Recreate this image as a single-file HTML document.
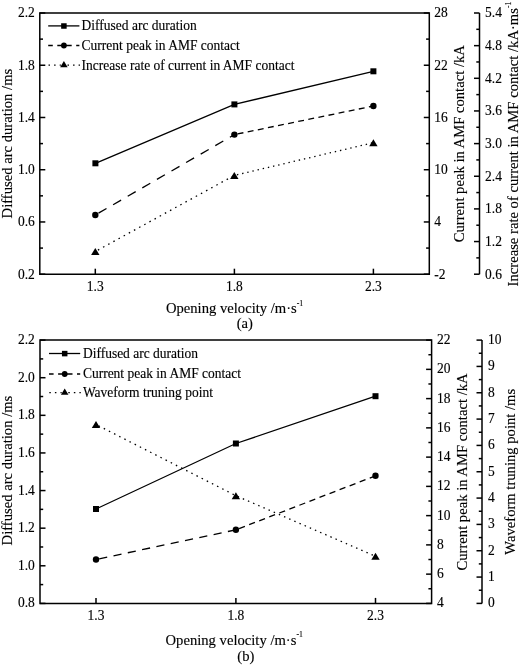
<!DOCTYPE html>
<html><head><meta charset="utf-8"><title>Figure</title>
<style>html,body{margin:0;padding:0;background:#fff}svg{display:block}text{font-family:"Liberation Serif",serif;fill:#000;stroke:#000;stroke-width:0.14px}</style>
</head><body>
<svg width="520" height="665" viewBox="0 0 520 665">
<rect width="520" height="665" fill="#fff"/>
<path d="M39.80,13.00 H429.30 V274.20 H39.80 Z" fill="none" stroke="#000" stroke-width="1.5"/>
<line x1="479.50" y1="13.00" x2="479.50" y2="274.20" stroke="#000" stroke-width="1.5" />
<line x1="39.80" y1="13.00" x2="45.30" y2="13.00" stroke="#000" stroke-width="1.5" />
<text transform="translate(34.80 17.40) scale(0.97 1)" font-size="13.92" text-anchor="end" >2.2</text>
<line x1="39.80" y1="39.12" x2="43.00" y2="39.12" stroke="#000" stroke-width="1.5" />
<line x1="39.80" y1="65.24" x2="45.30" y2="65.24" stroke="#000" stroke-width="1.5" />
<text transform="translate(34.80 69.64) scale(0.97 1)" font-size="13.92" text-anchor="end" >1.8</text>
<line x1="39.80" y1="91.36" x2="43.00" y2="91.36" stroke="#000" stroke-width="1.5" />
<line x1="39.80" y1="117.48" x2="45.30" y2="117.48" stroke="#000" stroke-width="1.5" />
<text transform="translate(34.80 121.88) scale(0.97 1)" font-size="13.92" text-anchor="end" >1.4</text>
<line x1="39.80" y1="143.60" x2="43.00" y2="143.60" stroke="#000" stroke-width="1.5" />
<line x1="39.80" y1="169.72" x2="45.30" y2="169.72" stroke="#000" stroke-width="1.5" />
<text transform="translate(34.80 174.12) scale(0.97 1)" font-size="13.92" text-anchor="end" >1.0</text>
<line x1="39.80" y1="195.84" x2="43.00" y2="195.84" stroke="#000" stroke-width="1.5" />
<line x1="39.80" y1="221.96" x2="45.30" y2="221.96" stroke="#000" stroke-width="1.5" />
<text transform="translate(34.80 226.36) scale(0.97 1)" font-size="13.92" text-anchor="end" >0.6</text>
<line x1="39.80" y1="248.08" x2="43.00" y2="248.08" stroke="#000" stroke-width="1.5" />
<line x1="39.80" y1="274.20" x2="45.30" y2="274.20" stroke="#000" stroke-width="1.5" />
<text transform="translate(34.80 278.60) scale(0.97 1)" font-size="13.92" text-anchor="end" >0.2</text>
<line x1="429.30" y1="13.00" x2="423.80" y2="13.00" stroke="#000" stroke-width="1.5" />
<text transform="translate(434.20 17.40) scale(0.97 1)" font-size="13.92" text-anchor="start" >28</text>
<line x1="429.30" y1="39.12" x2="426.10" y2="39.12" stroke="#000" stroke-width="1.5" />
<line x1="429.30" y1="65.24" x2="423.80" y2="65.24" stroke="#000" stroke-width="1.5" />
<text transform="translate(434.20 69.64) scale(0.97 1)" font-size="13.92" text-anchor="start" >22</text>
<line x1="429.30" y1="91.36" x2="426.10" y2="91.36" stroke="#000" stroke-width="1.5" />
<line x1="429.30" y1="117.48" x2="423.80" y2="117.48" stroke="#000" stroke-width="1.5" />
<text transform="translate(434.20 121.88) scale(0.97 1)" font-size="13.92" text-anchor="start" >16</text>
<line x1="429.30" y1="143.60" x2="426.10" y2="143.60" stroke="#000" stroke-width="1.5" />
<line x1="429.30" y1="169.72" x2="423.80" y2="169.72" stroke="#000" stroke-width="1.5" />
<text transform="translate(434.20 174.12) scale(0.97 1)" font-size="13.92" text-anchor="start" >10</text>
<line x1="429.30" y1="195.84" x2="426.10" y2="195.84" stroke="#000" stroke-width="1.5" />
<line x1="429.30" y1="221.96" x2="423.80" y2="221.96" stroke="#000" stroke-width="1.5" />
<text transform="translate(434.20 226.36) scale(0.97 1)" font-size="13.92" text-anchor="start" >4</text>
<line x1="429.30" y1="248.08" x2="426.10" y2="248.08" stroke="#000" stroke-width="1.5" />
<line x1="429.30" y1="274.20" x2="423.80" y2="274.20" stroke="#000" stroke-width="1.5" />
<text transform="translate(434.20 278.60) scale(0.97 1)" font-size="13.92" text-anchor="start" >-2</text>
<line x1="479.50" y1="13.00" x2="474.00" y2="13.00" stroke="#000" stroke-width="1.5" />
<text transform="translate(485.10 17.40) scale(0.97 1)" font-size="13.92" text-anchor="start" >5.4</text>
<line x1="479.50" y1="29.32" x2="476.30" y2="29.32" stroke="#000" stroke-width="1.5" />
<line x1="479.50" y1="45.65" x2="474.00" y2="45.65" stroke="#000" stroke-width="1.5" />
<text transform="translate(485.10 50.05) scale(0.97 1)" font-size="13.92" text-anchor="start" >4.8</text>
<line x1="479.50" y1="61.97" x2="476.30" y2="61.97" stroke="#000" stroke-width="1.5" />
<line x1="479.50" y1="78.30" x2="474.00" y2="78.30" stroke="#000" stroke-width="1.5" />
<text transform="translate(485.10 82.70) scale(0.97 1)" font-size="13.92" text-anchor="start" >4.2</text>
<line x1="479.50" y1="94.62" x2="476.30" y2="94.62" stroke="#000" stroke-width="1.5" />
<line x1="479.50" y1="110.95" x2="474.00" y2="110.95" stroke="#000" stroke-width="1.5" />
<text transform="translate(485.10 115.35) scale(0.97 1)" font-size="13.92" text-anchor="start" >3.6</text>
<line x1="479.50" y1="127.27" x2="476.30" y2="127.27" stroke="#000" stroke-width="1.5" />
<line x1="479.50" y1="143.60" x2="474.00" y2="143.60" stroke="#000" stroke-width="1.5" />
<text transform="translate(485.10 148.00) scale(0.97 1)" font-size="13.92" text-anchor="start" >3.0</text>
<line x1="479.50" y1="159.92" x2="476.30" y2="159.92" stroke="#000" stroke-width="1.5" />
<line x1="479.50" y1="176.25" x2="474.00" y2="176.25" stroke="#000" stroke-width="1.5" />
<text transform="translate(485.10 180.65) scale(0.97 1)" font-size="13.92" text-anchor="start" >2.4</text>
<line x1="479.50" y1="192.57" x2="476.30" y2="192.57" stroke="#000" stroke-width="1.5" />
<line x1="479.50" y1="208.90" x2="474.00" y2="208.90" stroke="#000" stroke-width="1.5" />
<text transform="translate(485.10 213.30) scale(0.97 1)" font-size="13.92" text-anchor="start" >1.8</text>
<line x1="479.50" y1="225.22" x2="476.30" y2="225.22" stroke="#000" stroke-width="1.5" />
<line x1="479.50" y1="241.55" x2="474.00" y2="241.55" stroke="#000" stroke-width="1.5" />
<text transform="translate(485.10 245.95) scale(0.97 1)" font-size="13.92" text-anchor="start" >1.2</text>
<line x1="479.50" y1="257.88" x2="476.30" y2="257.88" stroke="#000" stroke-width="1.5" />
<line x1="479.50" y1="274.20" x2="474.00" y2="274.20" stroke="#000" stroke-width="1.5" />
<text transform="translate(485.10 278.60) scale(0.97 1)" font-size="13.92" text-anchor="start" >0.6</text>
<line x1="95.30" y1="274.20" x2="95.30" y2="268.70" stroke="#000" stroke-width="1.5" />
<text transform="translate(95.30 290.90) scale(0.97 1)" font-size="13.92" text-anchor="middle" >1.3</text>
<line x1="234.40" y1="274.20" x2="234.40" y2="268.70" stroke="#000" stroke-width="1.5" />
<text transform="translate(234.40 290.90) scale(0.97 1)" font-size="13.92" text-anchor="middle" >1.8</text>
<line x1="373.40" y1="274.20" x2="373.40" y2="268.70" stroke="#000" stroke-width="1.5" />
<text transform="translate(373.40 290.90) scale(0.97 1)" font-size="13.92" text-anchor="middle" >2.3</text>
<polyline points="95.40,163.30 234.40,104.40 373.40,71.30" fill="none" stroke="#000" stroke-width="1.3" />
<path d="M98.50,213.15L106.50,208.53M113.10,204.71L121.10,200.09M127.70,196.27L135.70,191.65M142.30,187.83L150.30,183.21M156.90,179.40L164.90,174.77M171.50,170.96L179.50,166.33M186.10,162.52L194.10,157.89M200.70,154.08L208.70,149.45M215.30,145.64L223.30,141.02M229.90,137.20L234.40,134.60M237.60,133.94L243.40,132.75M247.70,131.86L253.50,130.67M257.80,129.79L263.60,128.59M267.90,127.71L273.70,126.51M278.00,125.63L283.80,124.44M288.10,123.55L293.90,122.36M298.20,121.47L304.00,120.28M308.30,119.39L314.10,118.20M318.40,117.32L324.20,116.12M328.50,115.24L334.30,114.05M338.60,113.16L344.40,111.97M348.70,111.08L354.50,109.89M358.80,109.00L364.60,107.81M368.90,106.93L373.40,106.00" fill="none" stroke="#000" stroke-width="1.3"/>
<path d="M97.90,250.08L99.25,249.34M103.05,247.26L104.40,246.52M108.20,244.44L109.55,243.70M113.35,241.62L114.70,240.88M118.50,238.80L119.85,238.06M123.65,235.98L125.00,235.24M128.80,233.16L130.15,232.42M133.95,230.34L135.30,229.60M139.10,227.52L140.45,226.78M144.25,224.70L145.60,223.96M149.40,221.88L150.75,221.14M154.55,219.06L155.90,218.32M159.70,216.24L161.05,215.50M164.85,213.42L166.20,212.68M170.00,210.60L171.35,209.86M175.15,207.78L176.50,207.04M180.30,204.96L181.65,204.22M185.45,202.14L186.80,201.41M190.60,199.32L191.95,198.59M195.75,196.51L197.10,195.77M200.90,193.69L202.25,192.95M206.05,190.87L207.40,190.13M211.20,188.05L212.55,187.31M216.35,185.23L217.70,184.49M221.50,182.41L222.85,181.67M226.65,179.59L228.00,178.85M231.80,176.77L233.15,176.03M236.95,174.78L238.30,174.46M242.10,173.57L243.45,173.25M247.25,172.36L248.60,172.04M252.40,171.15L253.75,170.83M257.55,169.93L258.90,169.62M262.70,168.72L264.05,168.41M267.85,167.51L269.20,167.20M273.00,166.30L274.35,165.98M278.15,165.09L279.50,164.77M283.30,163.88L284.65,163.56M288.45,162.67L289.80,162.35M293.60,161.46L294.95,161.14M298.75,160.25L300.10,159.93M303.90,159.04L305.25,158.72M309.05,157.83L310.40,157.51M314.20,156.62L315.55,156.30M319.35,155.41L320.70,155.09M324.50,154.20L325.85,153.88M329.65,152.98L331.00,152.67M334.80,151.77L336.15,151.46M339.95,150.56L341.30,150.25M345.10,149.35L346.45,149.04M350.25,148.14L351.60,147.82M355.40,146.93L356.75,146.61M360.55,145.72L361.90,145.40M365.70,144.51L367.05,144.19M370.85,143.30L372.20,142.98" fill="none" stroke="#000" stroke-width="1.3"/>
<rect x="92.40" y="160.30" width="6.0" height="6.0" fill="#000"/>
<rect x="231.40" y="101.40" width="6.0" height="6.0" fill="#000"/>
<rect x="370.40" y="68.30" width="6.0" height="6.0" fill="#000"/>
<circle cx="95.30" cy="215.00" r="3.2" fill="#000"/>
<circle cx="234.40" cy="134.60" r="3.2" fill="#000"/>
<circle cx="373.40" cy="106.00" r="3.2" fill="#000"/>
<polygon points="95.30,248.00 99.50,255.00 91.10,255.00" fill="#000"/>
<polygon points="234.30,171.90 238.50,178.90 230.10,178.90" fill="#000"/>
<polygon points="373.40,139.20 377.60,146.20 369.20,146.20" fill="#000"/>
<line x1="48.20" y1="25.90" x2="79.40" y2="25.90" stroke="#000" stroke-width="1.3" />
<rect x="61.15" y="23.25" width="5.5" height="5.5" fill="#000"/>
<text transform="translate(81.60 30.30) scale(0.97 1)" font-size="13.92" text-anchor="start" >Diffused arc duration</text>
<line x1="48.20" y1="45.50" x2="79.40" y2="45.50" stroke="#000" stroke-width="1.3" stroke-dasharray="4.6 4.5 14.4 4.5 3.4 0"/>
<circle cx="63.90" cy="45.50" r="2.9" fill="#000"/>
<text transform="translate(81.60 49.90) scale(0.97 1)" font-size="13.92" text-anchor="start" >Current peak in AMF contact</text>
<line x1="48.50" y1="65.20" x2="60.90" y2="65.20" stroke="#000" stroke-width="1.3" stroke-dasharray="1.5 4.1"/>
<line x1="67.50" y1="65.20" x2="80.00" y2="65.20" stroke="#000" stroke-width="1.3" stroke-dasharray="1.5 4.05"/>
<polygon points="63.90,61.05 67.65,67.35 60.15,67.35" fill="#000"/>
<text transform="translate(81.60 69.60) scale(0.97 1)" font-size="13.92" text-anchor="start" >Increase rate of current in AMF contact</text>
<text transform="translate(12.00 143.60) rotate(-90) scale(0.97 1)" font-size="15.10" text-anchor="middle" >Diffused arc duration /ms</text>
<text transform="translate(464.10 143.70) rotate(-90) scale(0.97 1)" font-size="15.10" text-anchor="middle" >Current peak in AMF contact /kA</text>
<text transform="translate(518.40 144.00) rotate(-90) scale(0.97 1)" font-size="15.10" text-anchor="middle" >Increase rate of current in AMF contact /kA·ms<tspan dy="-7.2" font-size="8">-1</tspan></text>
<text transform="translate(234.55 312.70) scale(0.97 1)" font-size="15.10" text-anchor="middle" >Opening velocity /m·s<tspan dy="-7.2" font-size="8">-1</tspan></text>
<text transform="translate(244.85 327.50) scale(0.97 1)" font-size="15.10" text-anchor="middle" >(a)</text>
<path d="M40.00,340.10 H431.60 V603.40 H40.00 Z" fill="none" stroke="#000" stroke-width="1.5"/>
<line x1="482.00" y1="340.10" x2="482.00" y2="603.40" stroke="#000" stroke-width="1.5" />
<line x1="40.00" y1="340.10" x2="45.50" y2="340.10" stroke="#000" stroke-width="1.5" />
<text transform="translate(34.80 344.10) scale(0.97 1)" font-size="13.92" text-anchor="end" >2.2</text>
<line x1="40.00" y1="358.91" x2="43.20" y2="358.91" stroke="#000" stroke-width="1.5" />
<line x1="40.00" y1="377.71" x2="45.50" y2="377.71" stroke="#000" stroke-width="1.5" />
<text transform="translate(34.80 381.71) scale(0.97 1)" font-size="13.92" text-anchor="end" >2.0</text>
<line x1="40.00" y1="396.52" x2="43.20" y2="396.52" stroke="#000" stroke-width="1.5" />
<line x1="40.00" y1="415.33" x2="45.50" y2="415.33" stroke="#000" stroke-width="1.5" />
<text transform="translate(34.80 419.33) scale(0.97 1)" font-size="13.92" text-anchor="end" >1.8</text>
<line x1="40.00" y1="434.14" x2="43.20" y2="434.14" stroke="#000" stroke-width="1.5" />
<line x1="40.00" y1="452.94" x2="45.50" y2="452.94" stroke="#000" stroke-width="1.5" />
<text transform="translate(34.80 456.94) scale(0.97 1)" font-size="13.92" text-anchor="end" >1.6</text>
<line x1="40.00" y1="471.75" x2="43.20" y2="471.75" stroke="#000" stroke-width="1.5" />
<line x1="40.00" y1="490.56" x2="45.50" y2="490.56" stroke="#000" stroke-width="1.5" />
<text transform="translate(34.80 494.56) scale(0.97 1)" font-size="13.92" text-anchor="end" >1.4</text>
<line x1="40.00" y1="509.36" x2="43.20" y2="509.36" stroke="#000" stroke-width="1.5" />
<line x1="40.00" y1="528.17" x2="45.50" y2="528.17" stroke="#000" stroke-width="1.5" />
<text transform="translate(34.80 532.17) scale(0.97 1)" font-size="13.92" text-anchor="end" >1.2</text>
<line x1="40.00" y1="546.98" x2="43.20" y2="546.98" stroke="#000" stroke-width="1.5" />
<line x1="40.00" y1="565.79" x2="45.50" y2="565.79" stroke="#000" stroke-width="1.5" />
<text transform="translate(34.80 569.79) scale(0.97 1)" font-size="13.92" text-anchor="end" >1.0</text>
<line x1="40.00" y1="584.59" x2="43.20" y2="584.59" stroke="#000" stroke-width="1.5" />
<line x1="40.00" y1="603.40" x2="45.50" y2="603.40" stroke="#000" stroke-width="1.5" />
<text transform="translate(34.80 607.40) scale(0.97 1)" font-size="13.92" text-anchor="end" >0.8</text>
<line x1="431.60" y1="340.10" x2="426.10" y2="340.10" stroke="#000" stroke-width="1.5" />
<text transform="translate(436.90 344.10) scale(0.97 1)" font-size="13.92" text-anchor="start" >22</text>
<line x1="431.60" y1="354.73" x2="428.40" y2="354.73" stroke="#000" stroke-width="1.5" />
<line x1="431.60" y1="369.36" x2="426.10" y2="369.36" stroke="#000" stroke-width="1.5" />
<text transform="translate(436.90 373.36) scale(0.97 1)" font-size="13.92" text-anchor="start" >20</text>
<line x1="431.60" y1="383.98" x2="428.40" y2="383.98" stroke="#000" stroke-width="1.5" />
<line x1="431.60" y1="398.61" x2="426.10" y2="398.61" stroke="#000" stroke-width="1.5" />
<text transform="translate(436.90 402.61) scale(0.97 1)" font-size="13.92" text-anchor="start" >18</text>
<line x1="431.60" y1="413.24" x2="428.40" y2="413.24" stroke="#000" stroke-width="1.5" />
<line x1="431.60" y1="427.87" x2="426.10" y2="427.87" stroke="#000" stroke-width="1.5" />
<text transform="translate(436.90 431.87) scale(0.97 1)" font-size="13.92" text-anchor="start" >16</text>
<line x1="431.60" y1="442.49" x2="428.40" y2="442.49" stroke="#000" stroke-width="1.5" />
<line x1="431.60" y1="457.12" x2="426.10" y2="457.12" stroke="#000" stroke-width="1.5" />
<text transform="translate(436.90 461.12) scale(0.97 1)" font-size="13.92" text-anchor="start" >14</text>
<line x1="431.60" y1="471.75" x2="428.40" y2="471.75" stroke="#000" stroke-width="1.5" />
<line x1="431.60" y1="486.38" x2="426.10" y2="486.38" stroke="#000" stroke-width="1.5" />
<text transform="translate(436.90 490.38) scale(0.97 1)" font-size="13.92" text-anchor="start" >12</text>
<line x1="431.60" y1="501.01" x2="428.40" y2="501.01" stroke="#000" stroke-width="1.5" />
<line x1="431.60" y1="515.63" x2="426.10" y2="515.63" stroke="#000" stroke-width="1.5" />
<text transform="translate(436.90 519.63) scale(0.97 1)" font-size="13.92" text-anchor="start" >10</text>
<line x1="431.60" y1="530.26" x2="428.40" y2="530.26" stroke="#000" stroke-width="1.5" />
<line x1="431.60" y1="544.89" x2="426.10" y2="544.89" stroke="#000" stroke-width="1.5" />
<text transform="translate(436.90 548.89) scale(0.97 1)" font-size="13.92" text-anchor="start" >8</text>
<line x1="431.60" y1="559.52" x2="428.40" y2="559.52" stroke="#000" stroke-width="1.5" />
<line x1="431.60" y1="574.14" x2="426.10" y2="574.14" stroke="#000" stroke-width="1.5" />
<text transform="translate(436.90 578.14) scale(0.97 1)" font-size="13.92" text-anchor="start" >6</text>
<line x1="431.60" y1="588.77" x2="428.40" y2="588.77" stroke="#000" stroke-width="1.5" />
<line x1="431.60" y1="603.40" x2="426.10" y2="603.40" stroke="#000" stroke-width="1.5" />
<text transform="translate(436.90 607.40) scale(0.97 1)" font-size="13.92" text-anchor="start" >4</text>
<line x1="482.00" y1="340.10" x2="476.50" y2="340.10" stroke="#000" stroke-width="1.5" />
<text transform="translate(488.00 344.10) scale(0.97 1)" font-size="13.92" text-anchor="start" >10</text>
<line x1="482.00" y1="353.27" x2="478.80" y2="353.27" stroke="#000" stroke-width="1.5" />
<line x1="482.00" y1="366.43" x2="476.50" y2="366.43" stroke="#000" stroke-width="1.5" />
<text transform="translate(488.00 370.43) scale(0.97 1)" font-size="13.92" text-anchor="start" >9</text>
<line x1="482.00" y1="379.60" x2="478.80" y2="379.60" stroke="#000" stroke-width="1.5" />
<line x1="482.00" y1="392.76" x2="476.50" y2="392.76" stroke="#000" stroke-width="1.5" />
<text transform="translate(488.00 396.76) scale(0.97 1)" font-size="13.92" text-anchor="start" >8</text>
<line x1="482.00" y1="405.93" x2="478.80" y2="405.93" stroke="#000" stroke-width="1.5" />
<line x1="482.00" y1="419.09" x2="476.50" y2="419.09" stroke="#000" stroke-width="1.5" />
<text transform="translate(488.00 423.09) scale(0.97 1)" font-size="13.92" text-anchor="start" >7</text>
<line x1="482.00" y1="432.26" x2="478.80" y2="432.26" stroke="#000" stroke-width="1.5" />
<line x1="482.00" y1="445.42" x2="476.50" y2="445.42" stroke="#000" stroke-width="1.5" />
<text transform="translate(488.00 449.42) scale(0.97 1)" font-size="13.92" text-anchor="start" >6</text>
<line x1="482.00" y1="458.59" x2="478.80" y2="458.59" stroke="#000" stroke-width="1.5" />
<line x1="482.00" y1="471.75" x2="476.50" y2="471.75" stroke="#000" stroke-width="1.5" />
<text transform="translate(488.00 475.75) scale(0.97 1)" font-size="13.92" text-anchor="start" >5</text>
<line x1="482.00" y1="484.92" x2="478.80" y2="484.92" stroke="#000" stroke-width="1.5" />
<line x1="482.00" y1="498.08" x2="476.50" y2="498.08" stroke="#000" stroke-width="1.5" />
<text transform="translate(488.00 502.08) scale(0.97 1)" font-size="13.92" text-anchor="start" >4</text>
<line x1="482.00" y1="511.25" x2="478.80" y2="511.25" stroke="#000" stroke-width="1.5" />
<line x1="482.00" y1="524.41" x2="476.50" y2="524.41" stroke="#000" stroke-width="1.5" />
<text transform="translate(488.00 528.41) scale(0.97 1)" font-size="13.92" text-anchor="start" >3</text>
<line x1="482.00" y1="537.57" x2="478.80" y2="537.57" stroke="#000" stroke-width="1.5" />
<line x1="482.00" y1="550.74" x2="476.50" y2="550.74" stroke="#000" stroke-width="1.5" />
<text transform="translate(488.00 554.74) scale(0.97 1)" font-size="13.92" text-anchor="start" >2</text>
<line x1="482.00" y1="563.90" x2="478.80" y2="563.90" stroke="#000" stroke-width="1.5" />
<line x1="482.00" y1="577.07" x2="476.50" y2="577.07" stroke="#000" stroke-width="1.5" />
<text transform="translate(488.00 581.07) scale(0.97 1)" font-size="13.92" text-anchor="start" >1</text>
<line x1="482.00" y1="590.23" x2="478.80" y2="590.23" stroke="#000" stroke-width="1.5" />
<line x1="482.00" y1="603.40" x2="476.50" y2="603.40" stroke="#000" stroke-width="1.5" />
<text transform="translate(488.00 607.40) scale(0.97 1)" font-size="13.92" text-anchor="start" >0</text>
<line x1="96.00" y1="603.40" x2="96.00" y2="597.90" stroke="#000" stroke-width="1.5" />
<text transform="translate(96.00 620.00) scale(0.97 1)" font-size="13.92" text-anchor="middle" >1.3</text>
<line x1="235.90" y1="603.40" x2="235.90" y2="597.90" stroke="#000" stroke-width="1.5" />
<text transform="translate(235.90 620.00) scale(0.97 1)" font-size="13.92" text-anchor="middle" >1.8</text>
<line x1="375.50" y1="603.40" x2="375.50" y2="597.90" stroke="#000" stroke-width="1.5" />
<text transform="translate(375.50 620.00) scale(0.97 1)" font-size="13.92" text-anchor="middle" >2.3</text>
<polyline points="96.00,509.00 235.90,443.50 375.50,396.20" fill="none" stroke="#000" stroke-width="1.3" />
<path d="M99.20,558.82L107.20,557.12M113.50,555.78L121.50,554.09M127.80,552.75L135.80,551.05M142.10,549.71L150.10,548.01M156.40,546.68L164.40,544.98M170.70,543.64L178.70,541.94M185.00,540.61L193.00,538.91M199.30,537.57L207.30,535.87M213.60,534.53L221.60,532.84M227.90,531.50L235.90,529.80M239.10,528.56L244.90,526.32M249.15,524.67L254.95,522.43M259.20,520.79L265.00,518.54M269.25,516.90L275.05,514.66M279.30,513.01L285.10,510.77M289.35,509.12L295.15,506.88M299.40,505.24L305.20,502.99M309.45,501.35L315.25,499.11M319.50,497.46L325.30,495.22M329.55,493.57L335.35,491.33M339.60,489.69L345.40,487.44M349.65,485.80L355.45,483.56M359.70,481.91L365.50,479.67M369.75,478.02L375.50,475.80" fill="none" stroke="#000" stroke-width="1.3"/>
<path d="M98.60,425.82L99.95,426.51M103.75,428.44L105.10,429.13M108.90,431.07L110.25,431.75M114.05,433.69L115.40,434.37M119.20,436.31L120.55,436.99M124.35,438.93L125.70,439.62M129.50,441.55L130.85,442.24M134.65,444.17L136.00,444.86M139.80,446.79L141.15,447.48M144.95,449.41L146.30,450.10M150.10,452.03L151.45,452.72M155.25,454.65L156.60,455.34M160.40,457.28L161.75,457.96M165.55,459.90L166.90,460.58M170.70,462.52L172.05,463.20M175.85,465.14L177.20,465.83M181.00,467.76L182.35,468.45M186.15,470.38L187.50,471.07M191.30,473.00L192.65,473.69M196.45,475.62L197.80,476.31M201.60,478.24L202.95,478.93M206.75,480.86L208.10,481.55M211.90,483.49L213.25,484.17M217.05,486.11L218.40,486.79M222.20,488.73L223.55,489.41M227.35,491.35L228.70,492.04M232.50,493.97L233.85,494.66M237.65,496.46L239.00,497.05M242.80,498.70L244.15,499.28M247.95,500.93L249.30,501.52M253.10,503.17L254.45,503.75M258.25,505.40L259.60,505.99M263.40,507.64L264.75,508.22M268.55,509.87L269.90,510.46M273.70,512.11L275.05,512.69M278.85,514.34L280.20,514.93M284.00,516.58L285.35,517.17M289.15,518.82L290.50,519.40M294.30,521.05L295.65,521.64M299.45,523.29L300.80,523.87M304.60,525.52L305.95,526.11M309.75,527.76L311.10,528.34M314.90,529.99L316.25,530.58M320.05,532.23L321.40,532.82M325.20,534.46L326.55,535.05M330.35,536.70L331.70,537.29M335.50,538.94L336.85,539.52M340.65,541.17L342.00,541.76M345.80,543.41L347.15,543.99M350.95,545.64L352.30,546.23M356.10,547.88L357.45,548.46M361.25,550.11L362.60,550.70M366.40,552.35L367.75,552.94M371.55,554.59L372.90,555.17" fill="none" stroke="#000" stroke-width="1.3"/>
<rect x="93.00" y="506.00" width="6.0" height="6.0" fill="#000"/>
<rect x="232.90" y="440.50" width="6.0" height="6.0" fill="#000"/>
<rect x="372.50" y="393.20" width="6.0" height="6.0" fill="#000"/>
<circle cx="96.00" cy="559.50" r="3.2" fill="#000"/>
<circle cx="235.90" cy="529.80" r="3.2" fill="#000"/>
<circle cx="375.50" cy="475.80" r="3.2" fill="#000"/>
<polygon points="96.00,421.00 100.20,428.00 91.80,428.00" fill="#000"/>
<polygon points="235.90,492.20 240.10,499.20 231.70,499.20" fill="#000"/>
<polygon points="375.50,552.80 379.70,559.80 371.30,559.80" fill="#000"/>
<line x1="49.00" y1="353.50" x2="80.20" y2="353.50" stroke="#000" stroke-width="1.3" />
<rect x="61.95" y="350.85" width="5.5" height="5.5" fill="#000"/>
<text transform="translate(82.90 357.90) scale(0.97 1)" font-size="13.92" text-anchor="start" >Diffused arc duration</text>
<line x1="49.00" y1="374.00" x2="80.20" y2="374.00" stroke="#000" stroke-width="1.3" stroke-dasharray="4.6 4.5 14.4 4.5 3.4 0"/>
<circle cx="64.70" cy="374.00" r="2.9" fill="#000"/>
<text transform="translate(82.90 378.40) scale(0.97 1)" font-size="13.92" text-anchor="start" >Current peak in AMF contact</text>
<line x1="49.30" y1="392.70" x2="61.70" y2="392.70" stroke="#000" stroke-width="1.3" stroke-dasharray="1.5 4.1"/>
<line x1="68.30" y1="392.70" x2="80.80" y2="392.70" stroke="#000" stroke-width="1.3" stroke-dasharray="1.5 4.05"/>
<polygon points="64.70,388.55 68.45,394.85 60.95,394.85" fill="#000"/>
<text transform="translate(82.90 397.10) scale(0.97 1)" font-size="13.92" text-anchor="start" >Waveform truning point</text>
<text transform="translate(12.40 470.55) rotate(-90) scale(0.97 1)" font-size="15.10" text-anchor="middle" >Diffused arc duration /ms</text>
<text transform="translate(466.60 471.95) rotate(-90) scale(0.97 1)" font-size="15.10" text-anchor="middle" >Current peak in AMF contact /kA</text>
<text transform="translate(515.40 471.75) rotate(-90) scale(0.97 1)" font-size="15.10" text-anchor="middle" >Waveform truning point /ms</text>
<text transform="translate(234.20 644.50) scale(0.97 1)" font-size="15.10" text-anchor="middle" >Opening velocity /m·s<tspan dy="-7.2" font-size="8">-1</tspan></text>
<text transform="translate(245.80 660.70) scale(0.97 1)" font-size="15.10" text-anchor="middle" >(b)</text>
</svg>
</body></html>
